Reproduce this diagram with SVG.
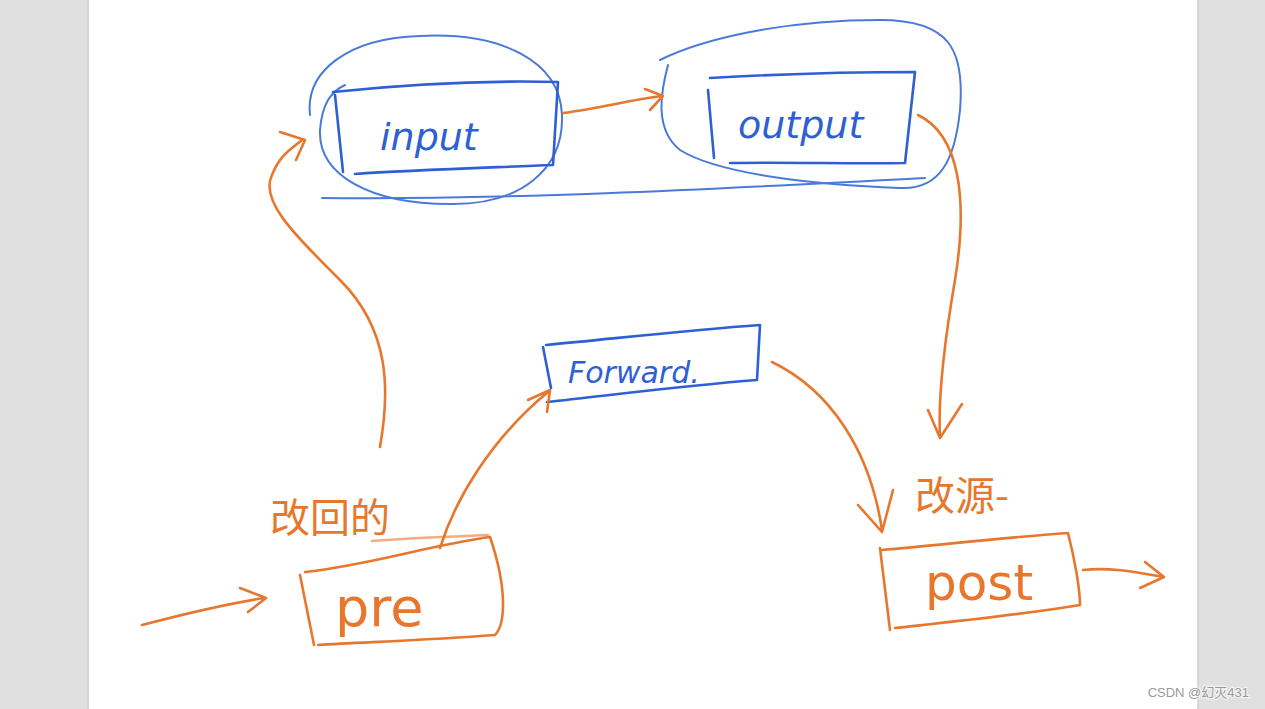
<svg xmlns="http://www.w3.org/2000/svg" width="1265" height="709" viewBox="0 0 1265 709">
<style>
.bl{fill:none;stroke:#2e5fd3;stroke-width:2.6;stroke-linecap:round;stroke-linejoin:round}
.blt{fill:none;stroke:#4a7ad8;stroke-width:2;stroke-linecap:round}
.or{fill:none;stroke:#e8772e;stroke-width:2.6;stroke-linecap:round;stroke-linejoin:round}
.bt{font-family:"DejaVu Sans","Liberation Sans",sans-serif;fill:#2e5fd3}
.ot{font-family:"DejaVu Sans","Liberation Sans",sans-serif;fill:#e8772e}
.ct{font-family:"Noto Sans CJK SC","DejaVu Sans",sans-serif;fill:#e8772e}
</style>
<rect x="0" y="0" width="1265" height="709" fill="#e0e0e0"/>
<rect x="89" y="0" width="1109" height="709" fill="#ffffff"/>
<line x1="88" y1="0" x2="88" y2="709" stroke="#d2d2d2" stroke-width="1.5"/>
<line x1="1198" y1="0" x2="1198" y2="709" stroke="#d2d2d2" stroke-width="1.5"/>

<g id="input">
<path class="blt" d="M310,115 C305,70 350,38 420,36 C500,32 560,60 562,115 C564,170 520,205 450,204 C370,204 318,175 320,130 C322,105 330,92 345,85"/>
<path class="bl" d="M335,95 L343,172 M333,92 C400,85 480,80 558,82 L553,165 C480,168 410,170 355,174"/>
<text class="bt" x="380" y="150" font-size="38" font-style="italic">input</text>
</g>

<g id="output">
<path class="blt" d="M660,60 C700,40 780,20 880,20 C950,20 965,50 960,110 C955,160 940,190 900,188 C820,185 720,175 680,150 C655,130 660,95 668,65"/>
<path class="bl" d="M708,90 L714,158 M710,78 C780,74 850,72 915,72 L905,163 C850,164 790,162 730,163"/>
<text class="bt" x="738" y="138" font-size="38" font-style="italic">output</text>
</g>

<g id="forward">
<path class="bl" d="M543,347 L551,388 M546,345 C620,338 690,330 760,325 L757,380 C690,385 620,394 547,402"/>
<text class="bt" x="568" y="383" font-size="30" font-style="italic">Forward.</text>
</g>

<g id="pre">
<path class="or" d="M300,575 L314,645 M305,572 C370,565 430,545 490,537 C508,590 505,625 495,635 C430,640 370,642 318,645"/>
<path class="or" d="M372,541 C410,538 450,537 488,535" stroke-width="1.4" opacity="0.6"/>
<text class="ot" x="335" y="626" font-size="54">pre</text>
<text class="ct" x="270" y="532" font-size="40">改回的</text>
</g>

<g id="post">
<path class="or" d="M880,548 L890,630 M882,550 C940,545 1010,537 1068,533 C1075,560 1080,590 1080,605 C1020,615 950,622 895,628"/>
<text class="ot" x="925" y="600" font-size="50">post</text>
<text class="ct" x="915" y="510" font-size="40">改源-</text>
</g>

<g id="connectors">
<path class="blt" d="M322,198 C500,200 700,190 925,178"/>
<path class="or" d="M563,113 C600,108 630,100 662,96 M645,89 L663,96 L650,110" stroke-width="2"/>
<path class="or" d="M918,115 C960,135 968,200 955,280 C943,350 938,400 940,437 M928,410 L940,438 L962,404"/>
<path class="or" d="M380,447 C390,390 390,330 340,280 C290,230 260,200 272,175 C280,155 290,150 302,140 M280,132 L305,140 L296,160"/>
<path class="or" d="M440,548 C455,500 490,440 548,392 M528,400 L550,390 L547,412"/>
<path class="or" d="M772,362 C830,390 870,450 882,530 M858,505 L882,532 L893,490"/>
<path class="or" d="M142,625 C180,615 220,605 264,598 M240,588 L266,598 L248,612"/>
<path class="or" d="M1083,570 C1110,567 1135,572 1163,577 M1145,562 L1164,577 L1140,588"/>
</g>

<text x="1249" y="697" text-anchor="end" font-family="'Liberation Sans','Noto Sans CJK SC',sans-serif" font-size="13" fill="#ffffff" stroke="#ffffff" stroke-width="2.5" opacity="0.6">CSDN @幻灭431</text>
<text x="1249" y="697" text-anchor="end" font-family="'Liberation Sans','Noto Sans CJK SC',sans-serif" font-size="13" fill="#9a9a9a">CSDN @幻灭431</text>
</svg>
